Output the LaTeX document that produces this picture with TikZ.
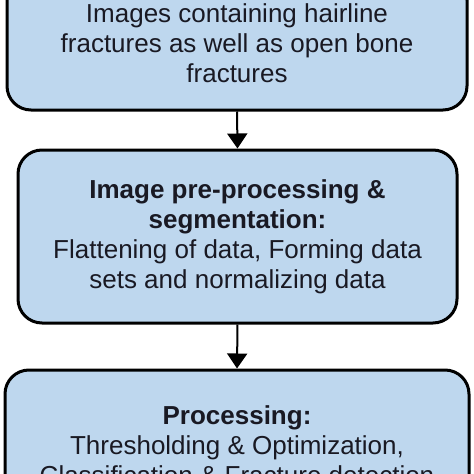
\documentclass[tikz,border=0pt]{standalone}
\usepackage{fontspec}
\setmainfont{Liberation Sans}
\usetikzlibrary{arrows.meta}
\definecolor{boxblue}{RGB}{190,215,238}
\definecolor{inktext}{RGB}{25,25,35}

\begin{document}
\begin{tikzpicture}[x=1pt,y=-1pt,
	stage/.style={draw=black, line width=3pt, fill=boxblue, rounded corners=24pt, align=center, text=inktext, inner sep=0pt, font=\fontsize{26}{30}\selectfont},
	flow/.style={-{Triangle[width=20pt,length=15pt]}, line width=2pt}]
	%\draw[help lines] (0,0) grid[step=50] (474,474);
	\useasboundingbox (0,0) rectangle (474,474);
	\node[stage, minimum width=460pt, minimum height=134pt] (input) at (237,43) {Images containing hairline\\fractures as well as open bone\\fractures};
	\node[stage, minimum width=439pt, minimum height=173pt] (prep) at (237.5,236.5) {\textbf{Image pre-processing \&}\\\textbf{segmentation:}\\Flattening of data, Forming data\\sets and normalizing data};
	\node[stage, minimum width=464pt, minimum height=150pt] (proc) at (237,445) {\textbf{Processing:}\\Thresholding \& Optimization,\\Classification \& Fracture detection};
	\draw[flow] (input.south) -- (prep.north);
	\draw[flow] (prep.south) -- (proc.north);
\end{tikzpicture}
\end{document}
